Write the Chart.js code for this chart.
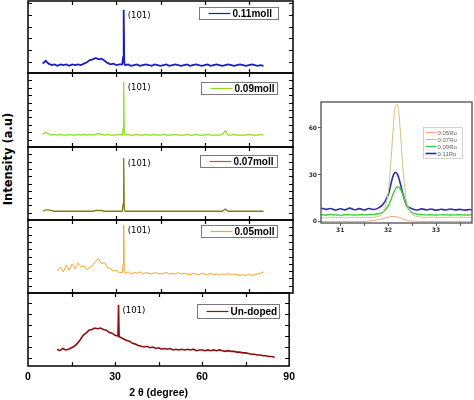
<!DOCTYPE html>
<html>
<head>
<meta charset="utf-8">
<script src="https://cdn.jsdelivr.net/npm/chart.js@4/dist/chart.umd.min.js"></script>
<style>
  body { margin: 0; background: #fff; width: 474px; height: 400px; position: relative; overflow: hidden; }
  canvas { position: absolute; }
  #ylab {
    position: absolute; left: 8px; top: 159px;
    transform: translate(-50%, -50%) rotate(-90deg);
    font: bold 11.5px "DejaVu Sans"; white-space: nowrap; color: #000;
  }
</style>
</head>
<body>
<div id="ylab">Intensity (a.u)</div>
<script>
// 2θ (degree) for the four doped patterns
const angles = [5,6,7,8,9,10,11,12,13,14,15,16,17,18,19,20,21,22,23,24,25,26,27,28,29,30,31,
  32,32.3,32.5,32.7,
  33,34,35,36,37,38,39,40,41,42,43,44,45,46,47,48,49,50,51,52,53,54,55,56,57,58,59,60,
  61,62,63,64,65,66,67,68,69,70,71,72,73,74,75,76,77,78,79,80]

// 2θ (degree) for the un-doped pattern
const anglesUndoped = [10,11,12,13,14,15,16,17,18,19,20,21,22,23,24,25,26,27,28,29,30,
  31,31.2,31.4,
  32,33,34,35,36,37,38,39,40,41,42,43,44,45,46,47,48,49,50,51,52,53,54,55,56,57,58,59,60,
  61,62,63,64,65,66,67,68,69,70,71,72,73,74,75,76,77,78,79,80,81,82,83,84,85]

// intensities, in % of each panel height
const int011 = [13,17,13,11,12,10,12,11, 12,10,12,11,12,11,13,15, 18,19,21,19,20,17,14,12, 13,11,12,
  12,22,88,14,
  11,12,10,11,12,10,11,12, 11,10,12,11,10,11,12,10, 11,12,11,10,11,12,10,11,
  12,11,10,11,12,10,11,12, 11,10,11,12,11,10,11,12, 11,10,11,12,11,10,11,10]

const int009 = [17,20,18,16,17,16,17,16, 16,17,16,16,17,16,17,16, 17,16,17,18,17,16,17,16, 16,16,17,
  16,25,88,18,
  16,17,16,16,17,16,16,17, 16,16,17,16,16,17,16,16, 16,17,16,16,16,17,16,16,
  17,16,16,16,17,16,16,16, 16,17,22,16,16,17,16,16, 16,16,17,16,16,16,17,16]

const int007 = [12,14,14,13,12,12,12,12, 12,12,12,12,12,12,12,12, 12,12,13,13,13,12,12,12, 12,12,12,
  12,22,85,14,
  12,12,12,12,12,12,12,12, 12,12,12,12,12,12,12,12, 12,12,12,12,12,12,12,12,
  12,12,12,12,12,12,12,12, 12,12,15,12,12,12,12,12, 12,12,12,12,12,12,12,12]

const int005 = [null,null,null,null,null,30,35,29, 38,31,40,33,41,36,37,32, 35,38,44,47,40,42,35,33, 30,31,28,
  28,40,93,30,
  27,29,26,28,27,29,26,28, 27,26,28,27,26,27,28,26, 27,26,28,26,27,26,25,27,
  26,25,27,26,25,27,25,26, 25,26,25,27,25,26,25,24, 25,24,26,24,25,26,27,29]

const intUndoped = [23,21,24,22,23,25,27,31, 36,42,45,49,50,52,51,52, 50,49,46,45,42,
  41,84,40,
  39,37,35,34,31,30,28,27, 26,27,25,26,24,25,23,24, 23,24,22,23,22,23,22,23,
  22,23,21,22,22,21,22,21, 22,21,22,21,20,21,20,20, 19,19,18,18,17,16,16,15,
  15,14,14,13,13,12]

const sampleLabels = ['0.11moll', '0.09moll', '0.07moll', '0.05moll', 'Un-doped']
const peakText = '(101)'
const xTicks = [0, 30, 60, 90]

// inset: zoom on the (101) peak
const zoomAngles = [30.6,30.7,30.8,30.9,31.0,31.1,31.2,31.3,31.4,31.5,31.6,31.7,31.8,31.9,
  32.0,32.05,32.1,32.15,32.2,32.25,32.3,32.35,32.4,
  32.5,32.6,32.7,32.8,32.9,33.0,33.1,33.2,33.3,33.4,33.5,33.6,33.7,33.75]
const zoom005 = [0.3,0.2,0.3,0.2,0.3,0.3,0.2,0.3,0.2,0.3,0.5,0.9,1.5,2.3,
  3.0,3.4,3.5,3.4,3.1,2.6,2.0,1.4,0.9,
  0.5,0.3,0.2,0.3,0.2,0.2,0.3,0.2,0.2,0.3,0.2,0.2,0.2,0.2]
const zoom007 = [2.8,2.6,3.0,2.7,2.9,2.6,2.8,3.0,2.7,2.9,2.8,3.0,3.5,6,
  18,35,57,74,75,60,38,21,11,
  5,3.5,3.0,2.8,3.1,2.9,3.0,2.8,3.1,2.9,3.0,2.8,3.0,2.9]
const zoom009 = [4.6,4.4,4.7,4.5,4.3,4.6,4.5,4.4,4.6,4.5,4.7,4.8,5.2,6.5,
  10,13.5,17.5,21,22.5,21.5,18,13.5,9.5,
  6,5,4.7,4.5,4.6,4.4,4.5,4.6,4.4,4.5,4.6,4.4,4.5,4.5]
const zoom011 = [8.8,8.0,8.6,7.6,8.4,7.7,8.8,7.8,8.5,7.6,8.6,7.9,9,11.5,
  17,23,29,31.7,30,25,19,13.5,10,
  8.4,7.6,8.3,7.7,8.2,7.5,8.1,7.6,8.2,7.7,8.0,7.5,7.9,7.6]
const zoomLabels = ['0.05Ru', '0.07Ru', '0.09Ru', '0.11Ru']
const zoomTicksX = [31, 31.5, 32, 32.5, 33, 33.5]
const zoomTicksY = [0, 30, 60]

function pairs(xs, ys) {
  return xs.map((a, i) => ({x: a, y: ys[i]}))
}

// panel borders on the page (y px)
const edges = [1, 73, 147, 220, 293, 366]

const panels = [
  {label: sampleLabels[0], xs: angles, ys: int011, color: '#1c1cc4', width: 1.8, yStart: 15, yStep: 16.5, leg: {x: 199, dy: 6, w: 79, h: 12}},
  {label: sampleLabels[1], xs: angles, ys: int009, color: '#86e01e', width: 1.2, yStart: 10, yStep: 10, leg: {x: 201, dy: 9, w: 76, h: 12}},
  {label: sampleLabels[2], xs: angles, ys: int007, color: '#7f7f14', width: 1.3, yStart: 10, yStep: 10, leg: {x: 200, dy: 8, w: 77, h: 12}},
  {label: sampleLabels[3], xs: angles, ys: int005, color: '#f5a12c', width: 1, yStart: 10, yStep: 10, leg: {x: 201, dy: 5, w: 76, h: 12}},
  {label: sampleLabels[4], xs: anglesUndoped, ys: intUndoped, color: '#8b0f12', width: 1.6, yStart: 11, yStep: 15, leg: {x: 197, dy: 11, w: 82, h: 14}}
]

const deco = {
  id: 'deco',
  afterDatasetsDraw(chart, args, o) {
    const {ctx, chartArea: a, scales: {x, y}} = chart
    ctx.save()
    ctx.strokeStyle = '#000'
    ctx.lineWidth = 1.2
    ctx.beginPath()
    for (let v = 15; v < 90; v += 15) {
      const px = Math.round(x.getPixelForValue(v)) + 0.5
      ctx.moveTo(px, a.top); ctx.lineTo(px, a.top + 4)
      ctx.moveTo(px, a.bottom); ctx.lineTo(px, a.bottom - 4)
    }
    for (let v = o.yStart; v < 100; v += o.yStep) {
      const py = Math.round(y.getPixelForValue(v)) + 0.5
      ctx.moveTo(a.left, py); ctx.lineTo(a.left + 4, py)
      ctx.moveTo(a.right, py); ctx.lineTo(a.right - 4, py)
    }
    ctx.stroke()
    ctx.lineWidth = 1.5
    ctx.strokeRect(a.left, a.top, a.right - a.left, a.bottom - a.top)

    // (101) label next to the highest point
    const ds = chart.data.datasets[0]
    let top = null
    for (const p of ds.data) if (p.y != null && (top == null || p.y > top.y)) top = p
    ctx.fillStyle = '#000'
    ctx.font = '8.5px "DejaVu Sans"'
    ctx.textAlign = 'left'
    ctx.textBaseline = 'middle'
    ctx.fillText(o.peakText, x.getPixelForValue(top.x) + 4, y.getPixelForValue(top.y) + 6)

    // legend box
    const L = o.leg
    const bx = L.x + 0.5, by = Math.round(a.top + L.dy) + 0.5
    ctx.fillStyle = '#fff'
    ctx.fillRect(bx, by, L.w, L.h)
    ctx.strokeStyle = '#7a7a7a'
    ctx.lineWidth = 1
    ctx.strokeRect(bx, by, L.w, L.h)
    ctx.strokeStyle = ds.borderColor
    ctx.lineWidth = 1.2
    ctx.beginPath()
    ctx.moveTo(bx + 9, by + L.h / 2); ctx.lineTo(bx + 31, by + L.h / 2)
    ctx.stroke()
    ctx.fillStyle = '#000'
    ctx.font = 'bold 10px "Liberation Sans"'
    ctx.fillText(ds.label, bx + 33, by + L.h / 2 + 0.5)
    ctx.restore()
  }
}

panels.forEach((p, i) => {
  const last = i === panels.length - 1
  const cv = document.createElement('canvas')
  const top = edges[i] - 1
  const h = last ? 400 - top : edges[i + 1] - edges[i] + 2
  cv.width = 300
  cv.height = h
  cv.style.left = '0px'
  cv.style.top = top + 'px'
  document.body.appendChild(cv)

  const xScale = {
    type: 'linear', min: 0, max: 90,
    display: last,
    afterBuildTicks: s => { s.ticks = xTicks.map(v => ({value: v})) },
    grid: {display: false, drawTicks: false},
    border: {display: false},
    ticks: {color: '#000', padding: 5, maxRotation: 0, autoSkip: false,
            font: {family: 'Liberation Sans', weight: 'bold', size: 10.5}},
    title: {display: true, text: '2 θ (degree)', color: '#000', padding: {top: 0, bottom: 1},
            font: {family: 'Liberation Sans', weight: 'bold', size: 10.5}}
  }
  if (last) xScale.afterFit = s => { s.height = 34 }

  new Chart(cv.getContext('2d'), {
    type: 'line',
    data: {
      datasets: [{
        label: p.label,
        data: pairs(p.xs, p.ys),
        borderColor: p.color,
        borderWidth: p.width,
        pointRadius: 0,
        tension: 0,
        spanGaps: false
      }]
    },
    options: {
      responsive: false,
      animation: false,
      events: [],
      layout: {padding: {left: 28, right: 7, top: 1, bottom: last ? 0 : 1}},
      plugins: {
        legend: {display: false},
        tooltip: {enabled: false},
        deco: {yStart: p.yStart, yStep: p.yStep, leg: p.leg, peakText: peakText}
      },
      scales: {
        x: xScale,
        y: {min: 0, max: 100, display: false}
      }
    },
    plugins: [deco]
  })
})

// ---- inset ----
const insetDeco = {
  id: 'insetDeco',
  afterDatasetsDraw(chart) {
    const {ctx, chartArea: a} = chart
    ctx.save()
    ctx.strokeStyle = '#5a5a5a'
    ctx.lineWidth = 1.4
    ctx.strokeRect(a.left, a.top, a.right - a.left, a.bottom - a.top)
    // legend
    const bx = 123.5, by = 47.5, bw = 39, bh = 31
    ctx.fillStyle = '#fff'
    ctx.fillRect(bx, by, bw, bh)
    ctx.strokeStyle = '#c8c8c8'
    ctx.lineWidth = 0.8
    ctx.strokeRect(bx, by, bw, bh)
    ctx.font = '6px "Liberation Sans"'
    ctx.textAlign = 'left'
    ctx.textBaseline = 'middle'
    chart.data.datasets.forEach((ds, k) => {
      const yy = by + 5 + k * 7
      ctx.strokeStyle = ds.borderColor
      ctx.lineWidth = ds.borderWidth
      ctx.beginPath()
      ctx.moveTo(bx + 2, yy); ctx.lineTo(bx + 13, yy)
      ctx.stroke()
      ctx.fillStyle = '#666'
      ctx.fillText(ds.label, bx + 14, yy + 0.5)
    })
    ctx.restore()
  }
}

const ic = document.createElement('canvas')
ic.width = 174
ic.height = 157
ic.style.left = '300px'
ic.style.top = '80px'
document.body.appendChild(ic)

const zoomSeries = [
  {label: zoomLabels[0], ys: zoom005, color: '#f2a47c', width: 1},
  {label: zoomLabels[1], ys: zoom007, color: '#cfc47e', width: 1},
  {label: zoomLabels[2], ys: zoom009, color: '#3fcc3f', width: 1.4},
  {label: zoomLabels[3], ys: zoom011, color: '#2c2cb0', width: 1.6}
]

new Chart(ic.getContext('2d'), {
  type: 'line',
  data: {
    datasets: zoomSeries.map(s => ({
      label: s.label,
      data: pairs(zoomAngles, s.ys),
      borderColor: s.color,
      borderWidth: s.width,
      pointRadius: 0,
      tension: 0.3
    }))
  },
  options: {
    responsive: false,
    animation: false,
    events: [],
    layout: {padding: {left: 0, top: 22, right: 2, bottom: 0}},
    plugins: {legend: {display: false}, tooltip: {enabled: false}},
    scales: {
      x: {
        type: 'linear', min: 30.6, max: 33.75,
        afterBuildTicks: s => { s.ticks = zoomTicksX.map(v => ({value: v})) },
        ticks: {callback: v => Number.isInteger(v) ? v : '', color: '#333', padding: 1,
                maxRotation: 0, autoSkip: false,
                font: {family: 'DejaVu Sans', weight: 'bold', size: 6}},
        grid: {drawOnChartArea: false, tickLength: 3, color: '#555'},
        border: {display: false},
        afterFit: s => { s.height = 14 }
      },
      y: {
        min: -0.7, max: 76.6,
        afterBuildTicks: s => { s.ticks = zoomTicksY.map(v => ({value: v})) },
        ticks: {color: '#333', padding: 1,
                font: {family: 'DejaVu Sans', weight: 'bold', size: 6}},
        grid: {drawOnChartArea: false, tickLength: 3, color: '#555'},
        border: {display: false},
        afterFit: s => { s.width = 21 }
      }
    }
  },
  plugins: [insetDeco]
})
</script>
</body>
</html>
